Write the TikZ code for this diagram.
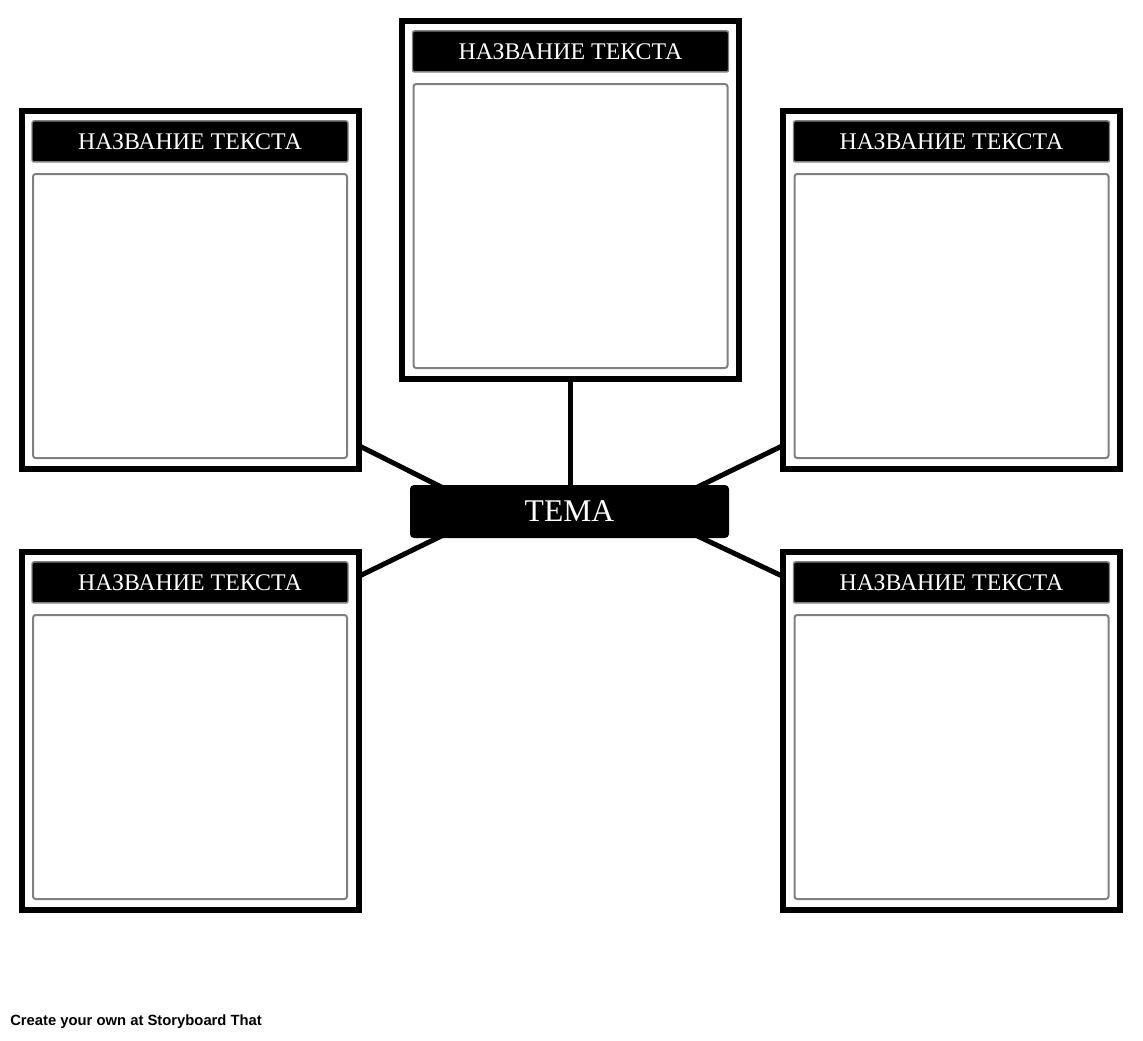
\documentclass[tikz,border=0pt]{standalone}
\usepackage{fontspec}
\setmainfont{Liberation Serif}
\setsansfont{Liberation Sans}
\usepackage{xcolor}
\usepackage{tikz}
\usetikzlibrary{backgrounds}

\definecolor{framegray}{RGB}{128,128,128}

\tikzset{
    card/.style={draw, line width=4.5pt, fill=white, minimum width=252.75pt, minimum height=268.5pt, inner sep=0pt},
    cardtitle/.style={draw=framegray, line width=1.1pt, fill=black, rounded corners=1.5pt, text=white,
        minimum width=237pt, minimum height=30.75pt, inner sep=0pt, font=\fontsize{17.9pt}{19pt}\selectfont},
    cardbody/.style={draw=framegray, line width=1.5pt, fill=white, rounded corners=2pt,
        minimum width=235.5pt, minimum height=213pt, inner sep=0pt},
    theme/.style={fill=black, rounded corners=3pt, text=white, minimum width=239.25pt, minimum height=39.75pt,
        inner sep=0pt, font=\fontsize{23.7pt}{26pt}\selectfont},
    link/.style={line width=3.75pt, shorten <=-4pt, shorten >=-4pt}
}

\begin{document}
\begin{tikzpicture}[x=0.75pt, y=-0.75pt]
    \useasboundingbox (0, 0) rectangle (1143, 1040);

    % cards
    \node[card] at (570.5, 200) (top) {};
    \node[card] at (190, 290) (lt) {};
    \node[card] at (951.5, 290) (rt) {};
    \node[card] at (190, 731) (lb) {};
    \node[card] at (951.5, 731) (rb) {};

    \node[cardtitle] at ([yshift=111.4pt]top.center) (top-title) {НАЗВАНИЕ ТЕКСТА};
    \node[cardtitle] at ([yshift=111.4pt]lt.center) (lt-title) {НАЗВАНИЕ ТЕКСТА};
    \node[cardtitle] at ([yshift=111.4pt]rt.center) (rt-title) {НАЗВАНИЕ ТЕКСТА};
    \node[cardtitle] at ([yshift=111.4pt]lb.center) (lb-title) {НАЗВАНИЕ ТЕКСТА};
    \node[cardtitle] at ([yshift=111.4pt]rb.center) (rb-title) {НАЗВАНИЕ ТЕКСТА};

    \node[cardbody] at ([yshift=-19.5pt]top.center) (top-body) {};
    \node[cardbody] at ([yshift=-19.5pt]lt.center) (lt-body) {};
    \node[cardbody] at ([yshift=-19.5pt]rt.center) (rt-body) {};
    \node[cardbody] at ([yshift=-19.5pt]lb.center) (lb-body) {};
    \node[cardbody] at ([yshift=-19.5pt]rb.center) (rb-body) {};

    % centre
    \node[theme] at (569.5, 511.5) (tema) {ТЕМА};

    \begin{scope}[on background layer]
        \draw[link] (top.south) -- (top.south |- tema.north);
        \draw[link] ([yshift=18.75pt]lt.south east) -- ([xshift=20.25pt]tema.north west);
        \draw[link] ([yshift=-19.5pt]lb.north east) -- ([xshift=20.25pt]tema.south west);
        \draw[link] ([yshift=18.75pt]rt.south west) -- ([xshift=-20.25pt]tema.north east);
        \draw[link] ([yshift=-19.5pt]rb.north west) -- ([xshift=-20.25pt]tema.south east);
    \end{scope}

    \node[anchor=west, inner sep=0pt, font=\sffamily\bfseries\fontsize{11.1pt}{13pt}\selectfont] at (10, 1022) (credit) {Create your own at Storyboard That};
\end{tikzpicture}
\end{document}
